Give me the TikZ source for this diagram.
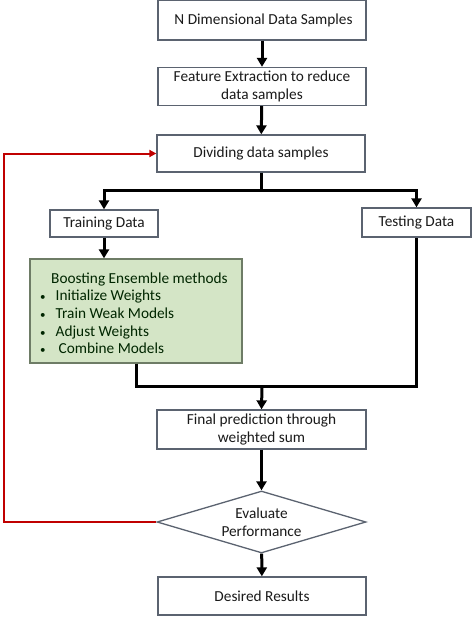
\documentclass[tikz,border=0pt]{standalone}
\usepackage{fontspec}
\setmainfont{Carlito}
\usetikzlibrary{arrows.meta,shapes.geometric}
\definecolor{boxline}{HTML}{5B6370}
\definecolor{greenfill}{HTML}{D4E5C6}
\definecolor{greenline}{HTML}{6E7C66}
\definecolor{redline}{HTML}{C00000}
\definecolor{txt}{HTML}{1A1A1A}
\tikzset{
  x=1pt, y=-1pt,
  every node/.style={font=\fontsize{15.3}{18}\selectfont, text=txt},
  box/.style={draw=boxline, line width=1.3pt, fill=white, rectangle, align=center, inner sep=0pt},
  flowline/.style={line width=3pt, black},
  flowarrow/.style={line width=3pt, black, -{Triangle[width=10pt,length=9pt]}},
  redarrow/.style={line width=2pt, redline, -{Triangle[width=7pt,length=7pt]}},
}
\newcommand{\bul}{{\fontsize{11}{11}\selectfont\textbullet}}
\begin{document}
\begin{tikzpicture}
\useasboundingbox (0,0) rectangle (474,619);
\node[box, minimum width=208pt, minimum height=40pt] (n1) at (262,20) {\hspace*{3pt}N Dimensional Data Samples};
\node[box, minimum width=208pt, minimum height=38pt] (n2) at (262,86.5) {Feature Extraction to reduce\\data samples};
\node[box, minimum width=208pt, minimum height=37pt] (n3) at (261,153.5) {Dividing data samples};
\node[box, minimum width=108pt, minimum height=27pt] (train) at (104,223.5) {Training Data};
\node[box, minimum width=109pt, minimum height=29pt] (test) at (416.5,222.5) {Testing Data};
\node[rectangle, draw=greenline, line width=1.3pt, fill=greenfill, minimum width=212pt, minimum height=104pt, inner sep=0pt] (green) at (136,311) {};
\node[anchor=north west, align=left, inner sep=0pt, text=black!85!green, font=\fontsize{15.3}{17.6}\selectfont] (gtext) at (40,272.5) {\hspace*{11pt}Boosting Ensemble methods\\
\bul\hspace{10pt}Initialize Weights\\
\bul\hspace{10pt}Train Weak Models\\
\bul\hspace{10pt}Adjust Weights\\
\bul\hspace{13pt}Combine Models};
\node[box, minimum width=209pt, minimum height=39pt] (final) at (261.5,429.5) {Final prediction through\\weighted sum};
\node[diamond, draw=boxline, line width=1.3pt, fill=white, aspect=3.37, minimum width=209pt, minimum height=62pt, inner sep=0pt, align=center] (eval) at (261.5,522) {Evaluate\\Performance};
\node[box, minimum width=208pt, minimum height=38pt] (res) at (262,596) {Desired Results};
\coordinate (sp) at (261,190);
\coordinate (mg) at (262,386);
\coordinate (rl) at (4,522);
\draw[flowarrow] (n1) -- (n2);
\draw[flowarrow] (n2) -- (n3);
\draw[flowline] (n3) -- (sp);
\draw[flowarrow] (sp) -| (train.north);
\draw[flowarrow] (sp) -| (test.north);
\draw[flowarrow] (train) -- (train.south |- green.north);
\draw[flowline] (green.south) |- (mg) -| (test.south);
\draw[flowarrow] (mg) -- (final.north);
\draw[flowarrow] (final) -- (eval.north);
\draw[flowarrow] (eval) -- (res);
\draw[redarrow] (eval.west) -- (rl) |- (n3.west);
\end{tikzpicture}
\end{document}
